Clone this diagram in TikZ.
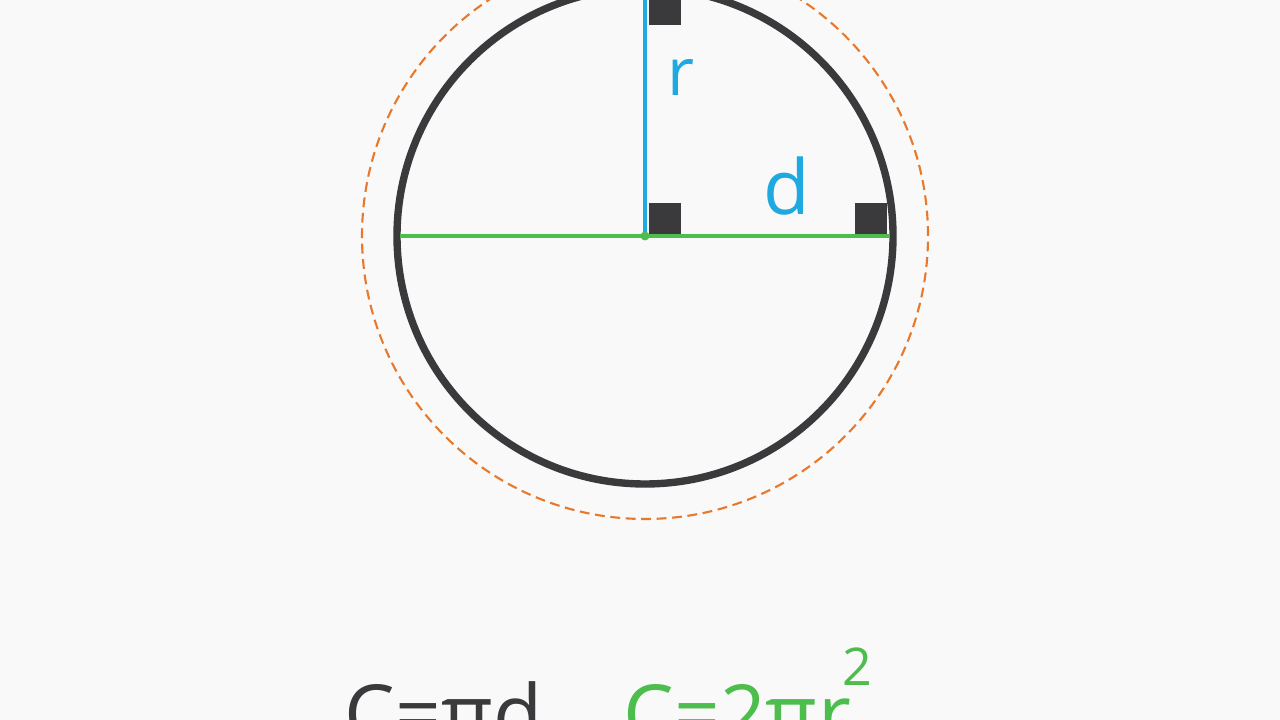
\documentclass[tikz,border=0pt]{standalone}
\usepackage{fontspec}
\setmainfont{Open Sans}
\definecolor{bg}{HTML}{F9F9F9}
\definecolor{rimgray}{HTML}{3A3A3C}
\definecolor{radblue}{HTML}{1FA9E1}
\definecolor{diagreen}{HTML}{4DBE4D}
\definecolor{halo}{HTML}{E8792C}
\begin{document}
\begin{tikzpicture}
        [rim/.style={line width=2.1pt, rimgray},
        radius line/.style={line width=1.4pt, radblue},
        diameter/.style={line width=1.3pt, diagreen},
        outer/.style={line width=0.6pt, halo, dash pattern=on 2.8pt off 1.6pt},
        corner/.style={rectangle, fill=rimgray, inner sep=0pt, minimum width=0.32cm, minimum height=0.31cm},
        label/.style={radblue, inner sep=0pt},
        formula/.style={anchor=base west, inner sep=0pt, font=\fontsize{22.8pt}{24pt}\selectfont}]

        \useasboundingbox[fill=bg] (0,0) rectangle (12.8,7.2);

        \coordinate (o) at (6.45,4.84);
        \coordinate (top) at (6.45,7.4);
        \coordinate (west) at (4.00,4.84);
        \coordinate (east) at (8.90,4.84);

        % circle and dashed halo
        \draw[outer] (o) circle (2.83cm);
        \draw[rim] (o) circle (2.48cm);

        % radius and diameter
        \draw[radius line] (o) -- (top);
        \draw[diameter] (west) -- (east);
        \fill[diagreen] (o) circle (0.045cm);

        % right angle marks
        \node[corner] (c1) at (6.65,7.10) {};
        \node[corner] (c2) at (6.65,5.01) {};
        \node[corner] (c3) at (8.71,5.01) {};

        % labels
        \node[label, font=\fontsize{18.8pt}{20pt}\selectfont] (r) at (6.81,6.42) {r};
        \node[label, font=\fontsize{21.6pt}{24pt}\selectfont] (d) at (7.87,5.34) {d};

        % formulas
        \node[formula, rimgray] (f1) at (3.44,-0.23) {C=πd};
        \node[formula, diagreen] (f2) at (6.23,-0.23) {C=2πr\kern-0.08cm\raisebox{0.57cm}{\fontsize{14.8pt}{16pt}\selectfont 2}};

    \end{tikzpicture}
\end{document}
